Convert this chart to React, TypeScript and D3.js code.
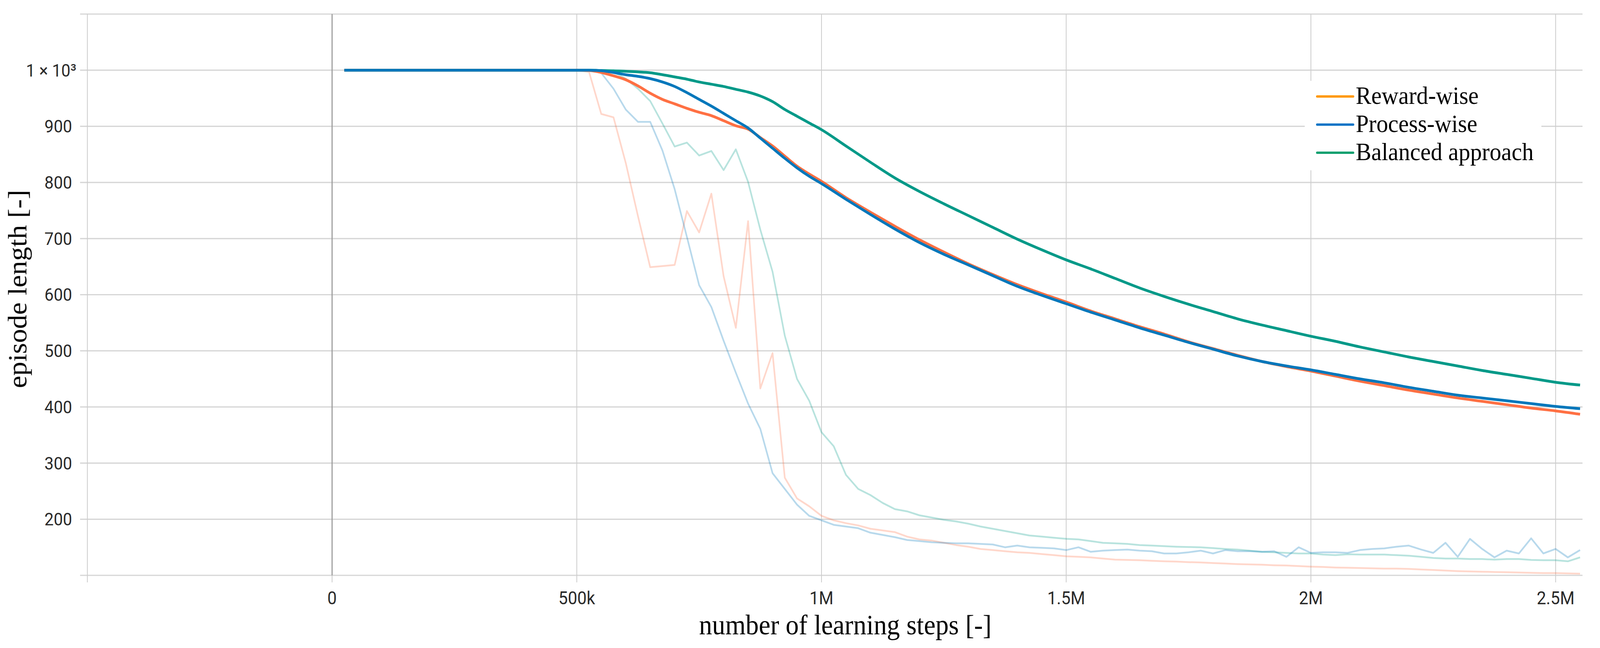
import React, { useEffect, useRef } from 'react';
import * as d3 from 'd3';

const WIDTH = 4395;
const HEIGHT = 1659;

// raw episode length, logged every 25k learning steps (25k .. 2.55M)
const rawSteps = d3.range(25000, 2550001, 25000);

const rewardRaw = [
  1000, 1000, 1000, 1000, 1000, 1000, 1000, 1000, 1000, 1000,
  1000, 1000, 1000, 1000, 1000, 1000, 1000, 1000, 1000, 1000,
  997, 922, 916, 835, 740, 649, 651, 653, 749, 711,
  780, 633, 541, 731, 433, 496, 274, 237, 223, 206,
  198, 193, 189, 183, 180, 177, 169, 164, 162, 158,
  154, 151, 147, 145, 143, 141, 140, 138, 136, 134,
  133, 132, 130, 128, 127.5, 127, 126, 125, 124.5, 123.5,
  123, 122, 121, 120, 119.5, 119, 118, 117.5, 116.5, 115.5,
  115, 114, 113.5, 113, 112.5, 112, 112, 111.5, 110.5, 109.5,
  108.5, 107.5, 107, 106.5, 106, 105.5, 105, 104.5, 104, 104,
  103.5, 103,
];

const processRaw = [
  1000, 1000, 1000, 1000, 1000, 1000, 1000, 1000, 1000, 1000,
  1000, 1000, 1000, 1000, 1000, 1000, 1000, 1000, 1000, 1000,
  1000, 995, 967, 930, 908, 908, 857, 788, 703, 617,
  578, 518, 461, 406, 361, 282, 254, 226, 206, 198,
  190, 187, 184, 176, 172, 168, 163, 161, 159, 158,
  157, 157, 156, 155, 150, 153, 150, 149, 148, 145,
  150, 142, 144, 145, 146, 144, 143, 139, 139, 141,
  144, 139, 145, 143, 143, 142, 143, 133, 150, 140,
  141, 141, 140, 145, 147, 148, 151, 153, 146, 140,
  158, 133, 165, 147, 132, 144, 139, 166, 139, 147,
  132, 145,
];

const balancedRaw = [
  1000, 1000, 1000, 1000, 1000, 1000, 1000, 1000, 1000, 1000,
  1000, 1000, 1000, 1000, 1000, 1000, 1000, 1000, 1000, 1000,
  1000, 1000, 997, 985, 967, 945, 905, 864, 871, 848,
  856, 822, 859, 801, 716, 641, 527, 450, 411, 355,
  330, 279, 254, 243, 229, 218, 214, 207, 203, 199,
  196, 192, 187, 183, 179, 175, 171, 169, 167, 165,
  164, 161, 158, 157, 156, 154, 153, 152, 151, 150.5,
  150, 148.5, 147, 146, 144, 142, 141, 140, 139, 139,
  137, 136, 137.5, 137, 137, 137, 136, 135, 133, 131,
  130, 130, 129, 129, 128, 129, 129, 127.5, 127, 127,
  125, 132,
];

// smoothed curves
const smoothSteps = [
  25000, 500000, 525000, 550000, 575000, 600000, 625000, 650000, 675000, 700000,
  725000, 750000, 775000, 800000, 825000, 850000, 875000, 900000, 925000, 950000,
  975000, 1000000, 1050000, 1100000, 1150000, 1200000, 1250000, 1300000, 1350000, 1400000,
  1450000, 1500000, 1550000, 1600000, 1650000, 1700000, 1750000, 1800000, 1850000, 1900000,
  1950000, 2000000, 2050000, 2100000, 2150000, 2200000, 2250000, 2300000, 2350000, 2400000,
  2450000, 2500000, 2550000,
];

const rewardSmooth = [
  1000, 1000, 999.5, 996, 990, 983, 972, 959, 948, 940,
  932, 925, 919, 910, 901, 895, 880, 865, 847, 829,
  815, 802, 773, 747, 722, 698, 676, 655, 636, 618,
  602, 587, 571, 557, 543, 530, 516, 504, 492, 481,
  472, 464, 455, 446, 438, 430, 423, 416, 410, 404,
  398, 393, 387,
];

const processSmooth = [
  1000, 1000, 1000, 999, 996, 992, 989, 985, 979, 971,
  960, 948, 936, 923, 910, 897, 879, 861, 843, 826,
  811, 798, 770, 743, 717, 693, 672, 653, 634, 615,
  599, 584, 569, 555, 541, 528, 515, 503, 491, 481,
  473, 466, 458, 450, 443, 435, 428, 421, 416, 411,
  406, 401, 397,
];

const balancedSmooth = [
  1000, 1000, 1000, 999.5, 999, 998, 997, 995.5, 992, 988,
  984, 979, 975, 971, 966, 961, 954, 944, 930, 918,
  906, 894, 865, 836, 808, 784, 762, 741, 720, 699,
  680, 662, 646, 629, 612, 597, 583, 570, 557, 546,
  536, 526, 517, 507, 498, 489, 481, 473, 465, 458,
  451, 444, 439,
];

const seriesNames = ['Reward-wise', 'Process-wise', 'Balanced approach'];
const lineColors = ['#ff7043', '#0077bb', '#009988'];
const legendColors = ['#ff9800', '#0a74c6', '#10a070'];

const xTicks = [-500000, 0, 500000, 1000000, 1500000, 2000000, 2500000];
const xTickLabels = ['', '0', '500k', '1M', '1.5M', '2M', '2.5M'];
const yTicks = [100, 200, 300, 400, 500, 600, 700, 800, 900, 1000, 1100];
const yTickLabels = ['', '200', '300', '400', '500', '600', '700', '800', '900', '1 × 10³', ''];

const App: React.FC = () => {
  const chartRef = useRef<SVGSVGElement>(null);

  useEffect(() => {
    if (!chartRef.current) return;
    const svg = d3.select(chartRef.current);
    svg.selectAll('*').remove();

    const x = d3.scaleLinear().domain([-500000, 2555000]).range([240, 4347]);
    const y = d3.scaleLinear().domain([100, 1100]).range([1473, 36]);
    const [left, right] = x.range();
    const [bottom, top] = y.range();

    svg.append('rect').attr('width', WIDTH).attr('height', HEIGHT).attr('fill', '#fff');

    // horizontal grid
    svg
      .append('g')
      .selectAll('line')
      .data(yTicks)
      .enter()
      .append('line')
      .attr('x1', left - 20)
      .attr('x2', right)
      .attr('y1', (d) => y(d))
      .attr('y2', (d) => y(d))
      .attr('stroke', '#d6d6d6')
      .attr('stroke-width', 3.2);

    // vertical grid + ticks
    svg
      .append('g')
      .selectAll('line')
      .data(xTicks)
      .enter()
      .append('line')
      .attr('x1', (d) => x(d))
      .attr('x2', (d) => x(d))
      .attr('y1', top)
      .attr('y2', bottom + 18)
      .attr('stroke', '#cdcdcd')
      .attr('stroke-width', 2.2);

    // zero line
    svg
      .append('line')
      .attr('x1', x(0))
      .attr('x2', x(0))
      .attr('y1', top)
      .attr('y2', bottom)
      .attr('stroke', '#9a9a9a')
      .attr('stroke-width', 3);

    // tick labels
    svg
      .append('g')
      .selectAll('text')
      .data(xTicks)
      .enter()
      .append('text')
      .attr('x', (d) => x(d))
      .attr('y', 1547)
      .attr('text-anchor', 'middle')
      .attr('font-family', 'Roboto, sans-serif')
      .attr('font-size', '46px')
      .attr('fill', '#2a2a2a')
      .text((d, i) => xTickLabels[i]);

    svg
      .append('g')
      .selectAll('text')
      .data(yTicks)
      .enter()
      .append('text')
      .attr('x', (d, i) => (i === 9 ? 210 : 198))
      .attr('y', (d) => y(d) + 16)
      .attr('text-anchor', 'end')
      .attr('font-family', 'Roboto, sans-serif')
      .attr('font-size', '45px')
      .attr('fill', '#2a2a2a')
      .text((d, i) => yTickLabels[i]);

    // axis titles
    svg
      .append('text')
      .attr('x', 2322)
      .attr('y', 1624)
      .attr('text-anchor', 'middle')
      .attr('font-family', '"Liberation Serif", serif')
      .attr('font-size', '72px')
      .attr('fill', '#000')
      .text('number of learning steps [-]');

    svg
      .append('text')
      .attr('transform', 'translate(72, 740) rotate(-90)')
      .attr('text-anchor', 'middle')
      .attr('font-family', '"Liberation Serif", serif')
      .attr('font-size', '72px')
      .attr('fill', '#000')
      .text('episode length [-]');

    const line = (steps: number[]) =>
      d3
        .line<number>()
        .x((d, i) => x(steps[i]))
        .y((d) => y(d));

    const raws = [balancedRaw, rewardRaw, processRaw];
    const smooths = [balancedSmooth, rewardSmooth, processSmooth];
    const order = [2, 0, 1];

    // raw runs, faded
    raws.forEach((vals, k) => {
      svg
        .append('path')
        .attr('d', line(rawSteps)(vals))
        .attr('fill', 'none')
        .attr('stroke', lineColors[order[k]])
        .attr('stroke-opacity', 0.28)
        .attr('stroke-width', 4.5)
        .attr('stroke-linejoin', 'round');
    });

    // smoothed runs
    smooths.forEach((vals, k) => {
      svg
        .append('path')
        .attr('d', line(smoothSteps).curve(d3.curveMonotoneX)(vals))
        .attr('fill', 'none')
        .attr('stroke', lineColors[order[k]])
        .attr('stroke-width', 7)
        .attr('stroke-linejoin', 'round');
    });

    // legend
    const legend = svg.append('g');
    legend
      .append('rect')
      .attr('x', 3584)
      .attr('y', 207)
      .attr('width', 650)
      .attr('height', 229)
      .attr('fill', '#fff');

    seriesNames.forEach((name, i) => {
      const ly = 247 + i * 72;
      legend
        .append('line')
        .attr('x1', 3618)
        .attr('x2', 3717)
        .attr('y1', ly)
        .attr('y2', ly)
        .attr('stroke', legendColors[i])
        .attr('stroke-width', 6)
        .attr('stroke-linecap', 'round');
      legend
        .append('text')
        .attr('x', 3724)
        .attr('y', ly + 19)
        .attr('font-family', '"Liberation Serif", serif')
        .attr('font-size', '64px')
        .attr('fill', '#000')
        .text(name);
    });
  }, []);

  return (
    <svg
      ref={chartRef}
      viewBox={`0 0 ${WIDTH} ${HEIGHT}`}
      preserveAspectRatio="none"
      style={{ position: 'fixed', top: 0, left: 0, width: '100vw', height: '100vh', display: 'block' }}
    ></svg>
  );
};

export default App;
